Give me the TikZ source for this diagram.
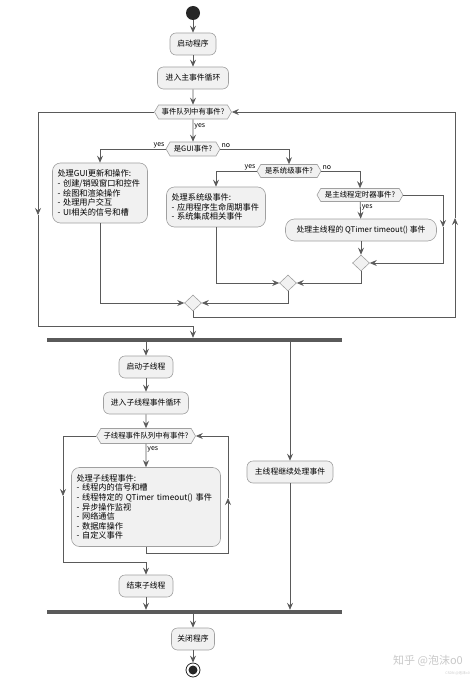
\documentclass[tikz,border=0pt]{standalone}
\usepackage{fontspec}
\setmainfont{Noto Sans CJK SC}
\usetikzlibrary{arrows.meta,shapes.geometric,shapes.symbols}
\definecolor{boxfill}{HTML}{F1F1F1}
\definecolor{boxline}{HTML}{A0A0A0}
\definecolor{ln}{HTML}{5A5A5A}
\definecolor{wm}{HTML}{C8C8C8}
\tikzset{
  act/.style={draw=boxline, fill=boxfill, rounded corners=6pt, line width=0.6pt, inner sep=0pt,
    font=\fontsize{7.8}{9.5}\selectfont, align=center},
  actl/.style={act, align=left, rounded corners=8pt, inner xsep=5pt, text width=#1,
    font=\fontsize{8.2}{9.6}\selectfont},
  hexa/.style={draw=boxline, fill=boxfill, line width=0.6pt, signal, signal to=west and east,
    signal pointer angle=120, inner sep=0pt, font=\fontsize{7.4}{8}\selectfont},
  merge/.style={draw=boxline, fill=boxfill, line width=0.6pt, diamond, inner sep=0pt, minimum width=17pt, minimum height=16pt},
  bar/.style={fill=ln, draw=none, minimum height=4pt, inner sep=0pt, minimum width=295pt},
  lbl/.style={font=\fontsize{7}{8}\selectfont, text=black, inner sep=1pt},
  arr/.style={-{Stealth[length=7pt,width=6pt,inset=2.5pt]}},
  wire/.style={draw=ln, line width=0.8pt},
}
\begin{document}
\begin{tikzpicture}[x=1pt,y=-1pt]
\useasboundingbox (0,0) rectangle (474,679);
% nodes
\node[circle, fill=black!85, minimum size=14pt, inner sep=0pt] (start) at (193,13) {};
\node[act, minimum width=46pt, minimum height=22pt] (n1) at (193,44) {启动程序};
\node[act, minimum width=71pt, minimum height=22pt] (n2) at (193,78) {进入主事件循环};
\node[hexa, minimum width=77pt, minimum height=14pt] (h1) at (193,112) {事件队列中有事件?};
\node[hexa, minimum width=54pt, minimum height=14pt] (h2) at (193,149) {是GUI事件?};
\node[actl=85pt, minimum height=60pt] (b1) at (100,193) {处理GUI更新和操作:\\- 创建/销毁窗口和控件\\- 绘图和渲染操作\\- 处理用户交互\\- UI相关的信号和槽};
\node[hexa, minimum width=64pt, minimum height=13pt] (h3) at (289,171) {是系统级事件?};
\node[actl=89pt, minimum height=40pt] (b2) at (216,207) {处理系统级事件:\\- 应用程序生命周期事件\\- 系统集成相关事件};
\node[hexa, minimum width=86pt, minimum height=13pt] (h4) at (360,195) {是主线程定时器事件?};
\node[act, minimum width=151pt, minimum height=22pt, rounded corners=9pt] (b3) at (361,230) {处理主线程的 QTimer timeout() 事件};
\node[merge] (d1) at (361,263) {};
\node[merge] (d2) at (288,283) {};
\node[merge] (d3) at (193,303) {};
\node[bar] (bar1) at (194.5,340) {};
\node[act, minimum width=54pt, minimum height=22pt] (c1) at (146,367) {启动子线程};
\node[act, minimum width=85pt, minimum height=22pt] (c2) at (146,403) {进入子线程事件循环};
\node[hexa, minimum width=99pt, minimum height=15pt] (h5) at (146,436) {子线程事件队列中有事件?};
\node[actl=139pt, minimum height=79pt] (b4) at (146,507) {处理子线程事件:\\- 线程内的信号和槽\\- 线程特定的 QTimer timeout() 事件\\- 异步操作监视\\- 网络通信\\- 数据库操作\\- 自定义事件};
\node[act, minimum width=54pt, minimum height=22pt] (c3) at (146,586) {结束子线程};
\node[act, minimum width=86pt, minimum height=22pt] (m1) at (290,472) {主线程继续处理事件};
\node[bar] (bar2) at (194.5,612) {};
\node[act, minimum width=43pt, minimum height=22pt] (e1) at (193,639) {关闭程序};
\node[circle, draw=black!85, line width=0.8pt, fill=white, minimum size=14pt, inner sep=0pt] (endo) at (193,670) {};
\node[circle, fill=black!85, minimum size=9pt, inner sep=0pt] (endi) at (193,670) {};
% watermark
\node[text=wm, font=\fontsize{11}{12}\selectfont, anchor=east, inner sep=0pt] (wm1) at (463,661) {知乎 @泡沫o0};
\node[text=wm, font=\fontsize{3.5}{4}\selectfont, anchor=east, inner sep=0pt] (wm2) at (470,673) {CSDN @泡沫o0};
% coordinates
\coordinate (lA) at (38,112);
\coordinate (lB) at (38,215);
\coordinate (lC) at (38,326);
\coordinate (lD) at (193,326);
\coordinate (rA) at (455,317);
\coordinate (rB) at (455,218);
\coordinate (rC) at (455,112);
\coordinate (rD) at (193,317);
\coordinate (tA) at (443,195);
\coordinate (tB) at (443,227);
\coordinate (tC) at (443,263);
\coordinate (sA) at (63,436);
\coordinate (sB) at (63,496);
\coordinate (sC) at (63,562);
\coordinate (sD) at (146,562);
\coordinate (uA) at (146,553);
\coordinate (uB) at (228,553);
\coordinate (uC) at (228,498);
\coordinate (uD) at (228,436);
% connectors
\draw[wire,arr] (start) -- (n1);
\draw[wire,arr] (n1) -- (n2);
\draw[wire,arr] (n2) -- (h1);
\draw[wire,arr] (h1) -- (h2) node[lbl, pos=0.3, right] {yes};
\draw[wire,arr] (h2.west) -| (b1.north);
\node[lbl, above left] (ly1) at (h2.west) {yes};
\draw[wire,arr] (h2.east) -| (h3.north);
\node[lbl, above right] (ln1) at (h2.east) {no};
\draw[wire,arr] (h3.west) -| (b2.north);
\node[lbl, above left] (ly2) at (h3.west) {yes};
\draw[wire,arr] (h3.east) -| (h4.north);
\node[lbl, above right] (ln2) at (h3.east) {no};
\draw[wire,arr] (h4) -- (b3) node[lbl, pos=0.35, right] {yes};
\draw[wire,arr] (b3) -- (d1);
\draw[wire,arr] (h4.east) -- (tA) -- (tB);
\draw[wire,arr] (tB) -- (tC) -- (d1.east);
\draw[wire,arr] (d1.south) |- (d2.east);
\draw[wire,arr] (b2.south) |- (d2.west);
\draw[wire,arr] (d2.south) |- (d3.east);
\draw[wire,arr] (b1.south) |- (d3.west);
\draw[wire,arr] (d3.south) -- (rD) -- (rA) -- (rB);
\draw[wire,arr] (rB) -- (rC) -- (h1.east);
\draw[wire,arr] (h1.west) -- (lA) -- (lB);
\draw[wire,arr] (lB) -- (lC) -- (lD) -- (lD |- bar1.north);
\draw[wire,arr] (c1.north |- bar1.south) -- (c1);
\draw[wire,arr] (m1.north |- bar1.south) -- (m1);
\draw[wire,arr] (c1) -- (c2);
\draw[wire,arr] (c2) -- (h5);
\draw[wire,arr] (h5) -- (b4) node[lbl, pos=0.25, right] {yes};
\draw[wire,arr] (h5.west) -- (sA) -- (sB);
\draw[wire,arr] (sB) -- (sC) -- (sD) -- (c3);
\draw[wire,arr] (b4.south) -- (uA) -- (uB) -- (uC);
\draw[wire,arr] (uC) -- (uD) -- (h5.east);
\draw[wire,arr] (c3) -- (c3.south |- bar2.north);
\draw[wire,arr] (m1) -- (m1.south |- bar2.north);
\draw[wire,arr] (e1.north |- bar2.south) -- (e1);
\draw[wire,arr] (e1) -- (endo);
\end{tikzpicture}
\end{document}
